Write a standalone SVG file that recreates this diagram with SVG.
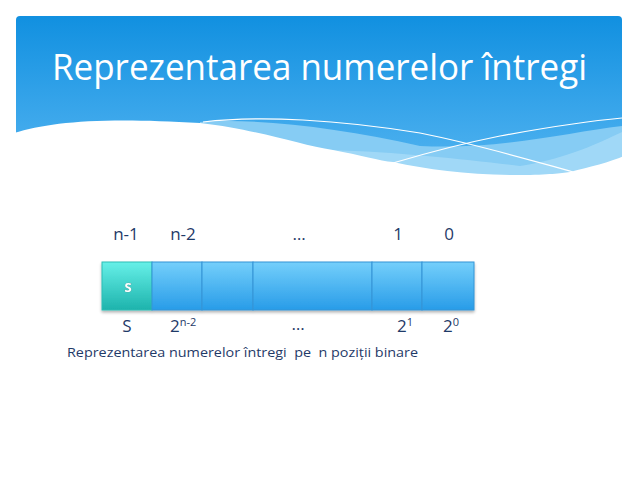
<svg xmlns="http://www.w3.org/2000/svg" width="638" height="478" viewBox="0 0 638 478">
<defs>
<linearGradient id="hdr" x1="0" y1="0" x2="0" y2="1">
<stop offset="0" stop-color="#1190e0"/>
<stop offset="0.55" stop-color="#3fa9ec"/>
<stop offset="1" stop-color="#62bdf2"/>
</linearGradient>
<linearGradient id="cell" x1="0" y1="0" x2="0" y2="1">
<stop offset="0" stop-color="#74cffb"/>
<stop offset="1" stop-color="#289ce8"/>
</linearGradient>
<linearGradient id="teal" x1="0" y1="0" x2="0" y2="1">
<stop offset="0" stop-color="#66f0e8"/>
<stop offset="1" stop-color="#1db3ac"/>
</linearGradient>
<filter id="sh" x="-10%" y="-10%" width="120%" height="140%">
<feGaussianBlur in="SourceAlpha" stdDeviation="1.5"/>
<feOffset dy="2"/>
<feComponentTransfer><feFuncA type="linear" slope="0.3"/></feComponentTransfer>
<feMerge><feMergeNode/><feMergeNode in="SourceGraphic"/></feMerge>
</filter>
</defs>
<style>
.lbl{font-family:"Open Sans","Liberation Sans",sans-serif;fill:#1f3a68;font-size:17px;text-anchor:middle}
.st{text-anchor:start}
.sup{font-size:11px}
.c{stroke:#3594d6;stroke-width:1}
</style>
<rect width="638" height="478" fill="#ffffff"/>
<g id="header">
<rect x="16" y="16" width="606" height="200" rx="4" fill="url(#hdr)"/>
<path d="M200,122 C260,118 340,128 420,146 C500,150 570,132 622,126 L622,210 L200,210 Z" fill="#86ccf4"/>
<path d="M330,150 C400,152 470,160 520,166 C570,158 600,142 622,132 L622,210 L330,210 Z" fill="#a6dbf8" opacity="0.8"/>
<path d="M203,122 C260,115 340,120 420,133 C480,145 530,160 573,172" fill="none" stroke="#ffffff" stroke-width="1.2"/>
<path d="M393,163 C430,152 470,142 500,136 C560,125 600,120 622,118" fill="none" stroke="#ffffff" stroke-width="1.2"/>
<path d="M14,133 C50,122 100,117 200,123 C260,130 300,145 333,150 C360,155 380,161 393,162 C430,170 470,175 520,175 C550,175 560,173 570,172 C590,167 610,162 624,156 L624,230 L14,230 Z" fill="#ffffff"/>
<text x="52" y="80" font-family="Open Sans, Liberation Sans, sans-serif" font-size="36" fill="#ffffff" textLength="535" lengthAdjust="spacingAndGlyphs">Reprezentarea numerelor întregi</text>
</g>
<g id="top-labels">
<text class="lbl" x="126" y="240">n-1</text>
<text class="lbl" x="183" y="240">n-2</text>
<text class="lbl" x="299" y="240">…</text>
<text class="lbl" x="398" y="240">1</text>
<text class="lbl" x="449" y="240">0</text>
</g>
<g id="bar" filter="url(#sh)">
<rect id="cell-s" x="102" y="262" width="50" height="48" fill="url(#teal)" stroke="#2cbdb5" stroke-width="1"/>
<rect id="cell-n2" class="c" x="152" y="262" width="50" height="48" fill="url(#cell)"/>
<rect id="cell-a" class="c" x="202" y="262" width="51" height="48" fill="url(#cell)"/>
<rect id="cell-dots" class="c" x="253" y="262" width="119" height="48" fill="url(#cell)"/>
<rect id="cell-1" class="c" x="372" y="262" width="50" height="48" fill="url(#cell)"/>
<rect id="cell-0" class="c" x="422" y="262" width="52" height="48" fill="url(#cell)"/>
<text x="128" y="292" font-family="Open Sans, Liberation Sans, sans-serif" font-size="13" font-weight="bold" fill="#ffffff" text-anchor="middle" style="paint-order:stroke" stroke="#6a9a98" stroke-width="0.6">S</text>
</g>
<g id="bottom-labels">
<text class="lbl" x="127" y="332">S</text>
<text class="lbl st" x="170" y="332">2<tspan class="sup" dy="-6">n-2</tspan></text>
<text class="lbl" x="298" y="330" font-size="12">…</text>
<text class="lbl st" x="397" y="332">2<tspan class="sup" dy="-6">1</tspan></text>
<text class="lbl st" x="443" y="332">2<tspan class="sup" dy="-6">0</tspan></text>
</g>
<g id="caption">
<text x="67" y="357" font-family="Open Sans, Liberation Sans, sans-serif" font-size="13.5" fill="#1f3a68" textLength="351" lengthAdjust="spacingAndGlyphs" xml:space="preserve">Reprezentarea numerelor întregi  pe  n poziții binare</text>
</g>
</svg>
